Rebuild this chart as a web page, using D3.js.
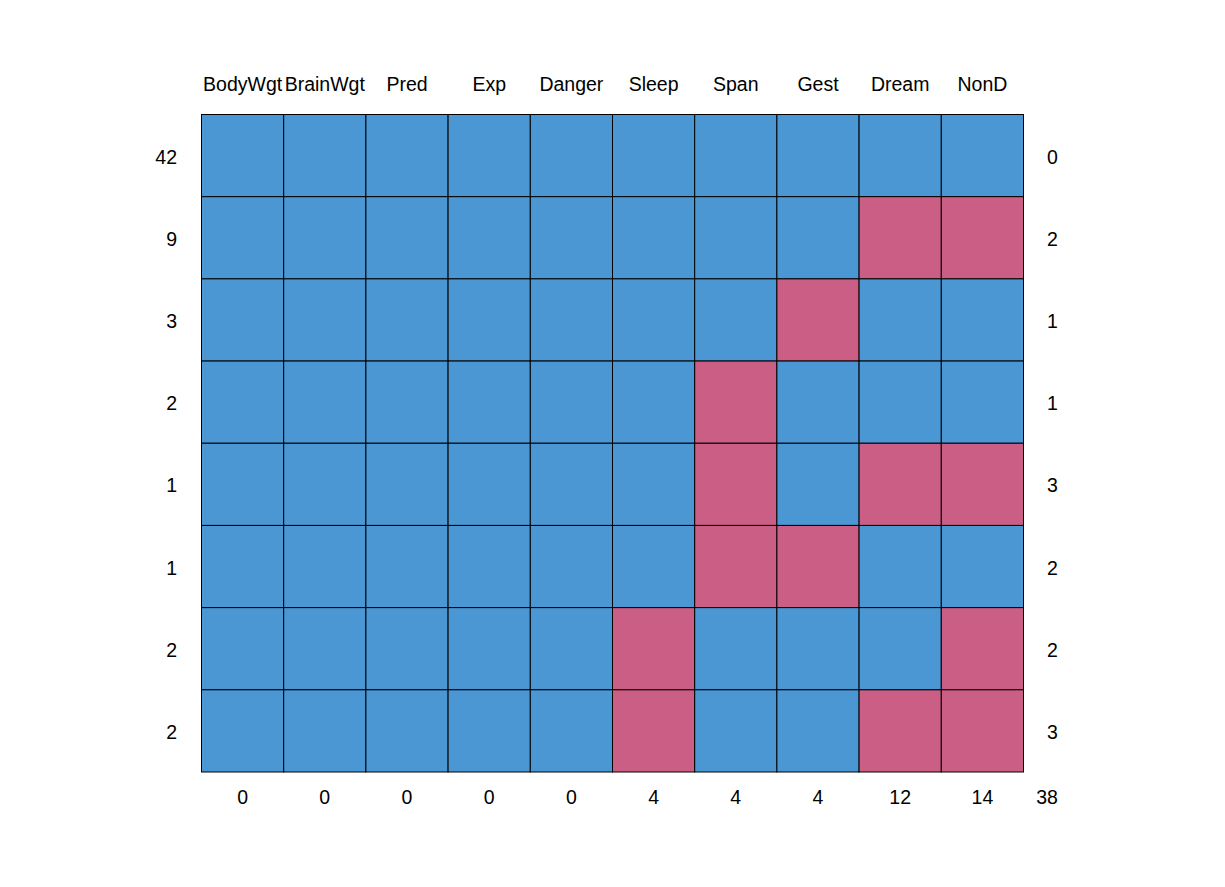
<!DOCTYPE html>
<html><head><meta charset="utf-8">
<script src="https://cdn.jsdelivr.net/npm/d3@7"></script>
<style>body{margin:0;background:#fff}</style>
</head><body>
<svg id="c" width="1225" height="887"></svg>
<script>
const variables = ["BodyWgt","BrainWgt","Pred","Exp","Danger","Sleep","Span","Gest","Dream","NonD"];
const patternCounts = [42, 9, 3, 2, 1, 1, 2, 2];
// 1 = observed, 0 = missing
const patterns = [
  [1,1,1,1,1,1,1,1,1,1],
  [1,1,1,1,1,1,1,1,0,0],
  [1,1,1,1,1,1,1,0,1,1],
  [1,1,1,1,1,1,0,1,1,1],
  [1,1,1,1,1,1,0,1,0,0],
  [1,1,1,1,1,1,0,0,1,1],
  [1,1,1,1,1,0,1,1,1,0],
  [1,1,1,1,1,0,1,1,0,0]
];
const rowMissing = [0, 2, 1, 1, 3, 2, 2, 3];
const colMissing = [0, 0, 0, 0, 0, 4, 4, 4, 12, 14];
const totalMissing = 38;

const svg = d3.select("#c");
const x = d3.scaleBand().domain(d3.range(variables.length)).range([201.5, 1023.5]);
const y = d3.scaleBand().domain(d3.range(patterns.length)).range([114.5, 772]);
const color = d3.scaleOrdinal().domain([1,0]).range(["#4B97D3","#CB5E84"]);
const font = "'Liberation Sans', Arial, sans-serif";

const cells = [];
patterns.forEach((r,i)=>r.forEach((v,j)=>cells.push({i,j,v})));
svg.append("g").selectAll("rect").data(cells).join("rect")
  .attr("x", d=>x(d.j)).attr("y", d=>y(d.i))
  .attr("width", x.bandwidth()).attr("height", y.bandwidth())
  .attr("fill", d=>color(d.v)).attr("stroke","#000").attr("stroke-width",1);

const t = svg.append("g").attr("font-family", font).attr("font-size", 19.5).attr("fill","#000").attr("text-anchor","middle");
t.selectAll(".top").data(variables).join("text")
  .attr("x",(d,j)=>x(j)+x.bandwidth()/2).attr("y",91).text(d=>d);
t.selectAll(".left").data(patternCounts).join("text")
  .attr("text-anchor","end")
  .attr("x",177).attr("y",(d,i)=>y(i)+y.bandwidth()/2+8).text(d=>d);
t.selectAll(".right").data(rowMissing).join("text")
  .attr("text-anchor","start")
  .attr("x",1047).attr("y",(d,i)=>y(i)+y.bandwidth()/2+8).text(d=>d);
t.selectAll(".bottom").data(colMissing).join("text")
  .attr("x",(d,j)=>x(j)+x.bandwidth()/2).attr("y",804).text(d=>d);
t.append("text").attr("x",1047).attr("y",804).text(totalMissing);
</script>
</body></html>
